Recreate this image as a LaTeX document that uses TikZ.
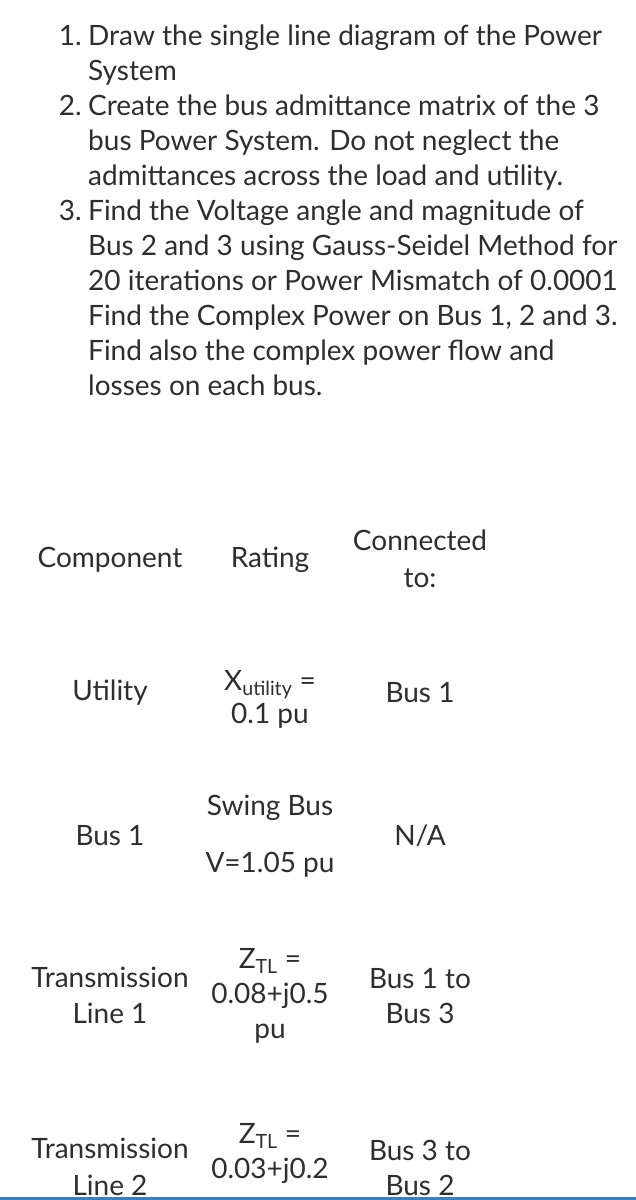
\documentclass[tikz,border=0pt]{standalone}
\usepackage{fontspec}
\setmainfont{Lato}
\definecolor{txt}{HTML}{2E2E2E}
\definecolor{bar}{HTML}{3A7FC0}
\begin{document}
\begin{tikzpicture}[x=1pt,y=-1pt,
  every node/.style={text=txt,inner sep=0pt},
  li/.style={anchor=base west,font=\fontsize{28}{32}\selectfont,yshift=-10pt},
  tb/.style={anchor=base,font=\fontsize{28}{32}\selectfont,yshift=-10pt}]
\fill[white] (0,0) rectangle (636,1200);
\useasboundingbox (0,0) rectangle (636,1200);
\node[li,anchor=base east] (n1) at (82,35) {1.};
\node[li] (l1) at (88,35) {Draw the single line diagram of the Power};
\node[li] (l2) at (88,70) {System};
\node[li,anchor=base east] (n2) at (82,105) {2.};
\node[li] (l3) at (88,105) {Create the bus admittance matrix of the 3};
\node[li] (l4) at (88,140) {bus Power System. Do not neglect the};
\node[li] (l5) at (88,175) {admittances across the load and utility.};
\node[li,anchor=base east] (n3) at (82,210) {3.};
\node[li] (l6) at (88,210) {Find the Voltage angle and magnitude of};
\node[li] (l7) at (88,245) {Bus 2 and 3 using Gauss-Seidel Method for};
\node[li] (l8) at (88,280) {20 iterations or Power Mismatch of 0.0001};
\node[li] (l9) at (88,315) {Find the Complex Power on Bus 1, 2 and 3.};
\node[li] (l10) at (88,350) {Find also the complex power flow and};
\node[li] (l11) at (88,385) {losses on each bus.};
\node[tb] (h1) at (110,557) {Component};
\node[tb] (h2) at (270,557) {Rating};
\node[tb] (h3) at (420,540) {Connected};
\node[tb] (h4) at (420,577) {to:};
\node[tb] (a1) at (110,690) {Utility};
\node[tb] (a2) at (270,680) {X\textsubscript{utility} =};
\node[tb] (a3) at (270,713) {0.1 pu};
\node[tb] (a4) at (420,692) {Bus 1};
\node[tb] (b1) at (110,835) {Bus 1};
\node[tb] (b2) at (270,805) {Swing Bus};
\node[tb] (b3) at (270,862) {V=1.05 pu};
\node[tb] (b4) at (420,835) {N/A};
\node[tb] (c1) at (110,977) {Transmission};
\node[tb] (c2) at (110,1013) {Line 1};
\node[tb] (c3) at (270,958) {Z\textsubscript{TL} =};
\node[tb] (c4) at (270,993) {0.08+j0.5};
\node[tb] (c5) at (270,1028) {pu};
\node[tb] (c6) at (420,978) {Bus 1 to};
\node[tb] (c7) at (420,1013) {Bus 3};
\node[tb] (d1) at (110,1148) {Transmission};
\node[tb] (d2) at (110,1185) {Line 2};
\node[tb] (d3) at (270,1133) {Z\textsubscript{TL} =};
\node[tb] (d4) at (270,1168) {0.03+j0.2};
\node[tb] (d5) at (420,1150) {Bus 3 to};
\node[tb] (d6) at (420,1185) {Bus 2};
\fill[bar] (0,1197) rectangle (636,1200);
\end{tikzpicture}
\end{document}
